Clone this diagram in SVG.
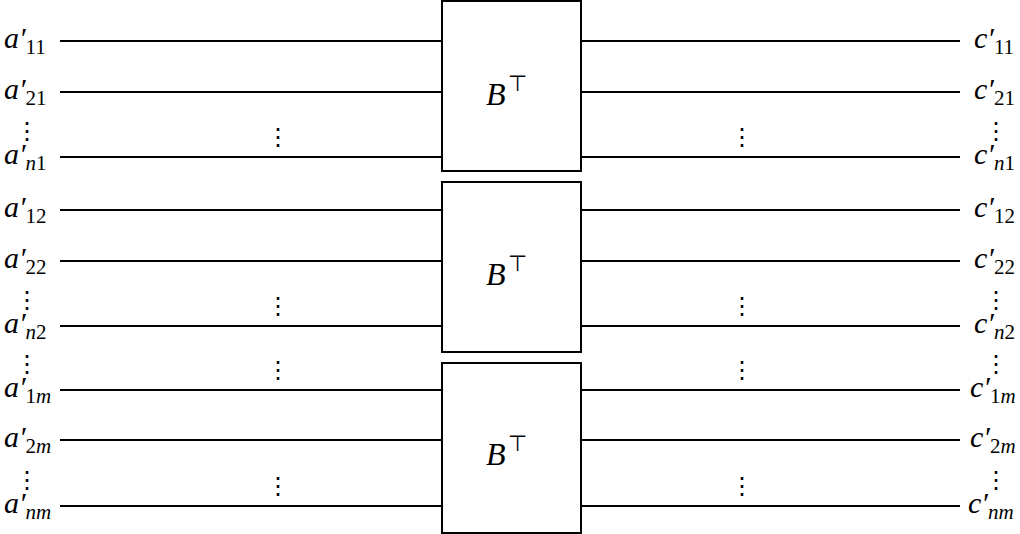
<svg xmlns="http://www.w3.org/2000/svg" width="1020" height="534" viewBox="0 0 1020 534">
<style>
.w{stroke:#000;stroke-width:2;fill:none}
.b{stroke:#000;stroke-width:2;fill:#fff}
.l{font-family:"Liberation Serif",serif;font-style:italic;font-size:30px}
.s{font-size:21px;font-style:normal}
.si{font-size:21px}
.d{font-family:"DejaVu Sans",sans-serif;font-size:24px}
.bt{font-family:"Liberation Serif",serif;font-style:italic;font-size:32px}
</style>
<g id="connectors">
<path class="w" d="M60 41H442M60 92H442M60 157H442M60 210H442M60 261H442M60 326H442M60 390H442M60 440H442M60 506H442"/>
<path class="w" d="M581 41H960M581 92H960M581 157H960M581 210H960M581 261H960M581 326H960M581 390H960M581 440H960M581 506H960"/>
</g>
<g id="box1"><rect class="b" x="442" y="1" width="139" height="170"/><text class="bt" x="486" y="105">B<tspan font-style="normal" font-size="22" dy="-14" dx="2">⊤</tspan></text></g>
<g id="box2"><rect class="b" x="442" y="182" width="139" height="170"/><text class="bt" x="486" y="285">B<tspan font-style="normal" font-size="22" dy="-14" dx="2">⊤</tspan></text></g>
<g id="box3"><rect class="b" x="442" y="363" width="139" height="170"/><text class="bt" x="486" y="465">B<tspan font-style="normal" font-size="22" dy="-14" dx="2">⊤</tspan></text></g>
<g id="dots" class="d" text-anchor="middle">
<text x="278" y="145">⋮</text><text x="742" y="145">⋮</text>
<text x="278" y="314">⋮</text><text x="742" y="314">⋮</text>
<text x="278" y="378">⋮</text><text x="742" y="378">⋮</text>
<text x="278" y="494">⋮</text><text x="742" y="494">⋮</text>
<text x="27" y="139">⋮</text><text x="996" y="139">⋮</text>
<text x="27" y="308">⋮</text><text x="996" y="308">⋮</text>
<text x="27" y="372">⋮</text><text x="996" y="372">⋮</text>
<text x="27" y="488">⋮</text><text x="996" y="488">⋮</text>
</g>
<g id="labels-left" class="l">
<text x="4" y="48">a′<tspan class="s" dy="6">11</tspan></text>
<text x="4" y="99">a′<tspan class="s" dy="6">21</tspan></text>
<text x="4" y="164">a′<tspan class="si" dy="6">n</tspan><tspan class="s">1</tspan></text>
<text x="4" y="217">a′<tspan class="s" dy="6">12</tspan></text>
<text x="4" y="268">a′<tspan class="s" dy="6">22</tspan></text>
<text x="4" y="333">a′<tspan class="si" dy="6">n</tspan><tspan class="s">2</tspan></text>
<text x="4" y="397">a′<tspan class="s" dy="6">1</tspan><tspan class="si">m</tspan></text>
<text x="4" y="447">a′<tspan class="s" dy="6">2</tspan><tspan class="si">m</tspan></text>
<text x="4" y="513">a′<tspan class="si" dy="6">nm</tspan></text>
</g>
<g id="labels-right" class="l">
<text x="974" y="48">c′<tspan class="s" dy="6">11</tspan></text>
<text x="974" y="99">c′<tspan class="s" dy="6">21</tspan></text>
<text x="974" y="164">c′<tspan class="si" dy="6">n</tspan><tspan class="s">1</tspan></text>
<text x="974" y="217">c′<tspan class="s" dy="6">12</tspan></text>
<text x="974" y="268">c′<tspan class="s" dy="6">22</tspan></text>
<text x="974" y="333">c′<tspan class="si" dy="6">n</tspan><tspan class="s">2</tspan></text>
<text x="970" y="397">c′<tspan class="s" dy="6">1</tspan><tspan class="si">m</tspan></text>
<text x="970" y="447">c′<tspan class="s" dy="6">2</tspan><tspan class="si">m</tspan></text>
<text x="968" y="513">c′<tspan class="si" dy="6">nm</tspan></text>
</g>
</svg>
